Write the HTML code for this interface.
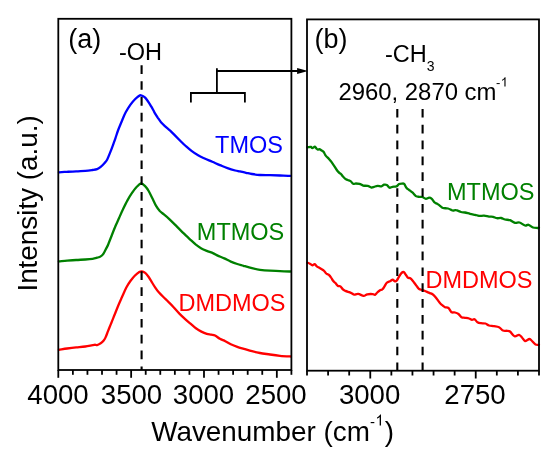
<!DOCTYPE html>
<html><head><meta charset="utf-8"><style>
html,body{margin:0;padding:0;background:#fff;}
body{width:550px;height:457px;overflow:hidden;}
svg{display:block;will-change:transform;}
text{font-family:"Liberation Sans",sans-serif;}
</style></head><body>
<svg width="550" height="457" viewBox="0 0 550 457">
<rect width="550" height="457" fill="#fff"/>
<g  fill="none" stroke-linejoin="round" stroke-linecap="round" stroke-width="2.3">
<path stroke="#0000ff" d="M58.9,172.3 C60.3,172.2 64.2,172.0 67.1,171.8 C70.0,171.7 73.2,171.6 76.2,171.4 C79.2,171.2 82.6,171.1 85.3,170.9 C88.0,170.7 90.5,170.3 92.5,170.0 C94.5,169.7 95.7,169.6 97.1,169.1 C98.5,168.6 99.5,167.8 100.7,166.8 C101.9,165.8 103.3,164.4 104.4,163.2 C105.5,162.0 106.2,161.4 107.1,159.7 C108.0,158.0 109.0,155.5 109.9,153.2 C110.8,150.9 111.8,148.3 112.7,145.8 C113.6,143.3 114.5,140.9 115.4,138.3 C116.3,135.7 117.1,132.9 118.2,130.0 C119.3,127.1 120.8,123.7 122.0,120.7 C123.2,117.8 124.3,114.9 125.7,112.3 C127.1,109.7 128.8,107.1 130.3,104.9 C131.9,102.7 133.6,100.7 135.0,99.3 C136.4,97.9 137.5,97.0 138.5,96.3 C139.5,95.6 140.0,95.1 141.0,95.3 C142.0,95.5 143.4,96.2 144.6,97.2 C145.8,98.2 146.8,99.7 147.9,101.2 C149.0,102.7 150.1,104.6 151.2,106.4 C152.3,108.2 153.3,110.4 154.4,112.3 C155.5,114.2 156.6,115.9 157.7,117.6 C158.8,119.2 159.8,120.8 161.0,122.2 C162.2,123.6 163.4,124.7 164.9,126.1 C166.4,127.5 168.4,129.1 170.2,130.7 C171.9,132.3 173.7,134.2 175.4,135.9 C177.2,137.7 179.0,139.5 180.7,141.2 C182.4,142.9 183.9,144.4 185.7,146.0 C187.5,147.6 189.4,149.3 191.5,150.9 C193.6,152.5 195.9,154.0 198.1,155.3 C200.3,156.6 202.2,157.4 204.6,158.5 C207.0,159.6 209.8,160.7 212.3,161.8 C214.9,162.9 217.4,164.1 219.9,165.1 C222.4,166.1 224.9,167.2 227.5,168.1 C230.1,169.0 233.1,169.9 235.2,170.5 C237.3,171.1 238.2,171.0 240.0,171.4 C241.8,171.8 244.0,172.4 246.0,172.8 C248.0,173.2 249.7,173.6 252.0,174.0 C254.3,174.4 257.0,174.8 260.0,175.0 C263.0,175.2 266.7,175.1 270.0,175.2 C273.3,175.3 276.6,175.4 280.0,175.5 C283.4,175.6 288.8,175.8 290.5,175.8"/>
<path stroke="#008000" d="M58.9,261.4 C60.3,261.3 64.2,260.8 67.1,260.6 C70.0,260.4 73.2,260.2 76.2,260.0 C79.2,259.8 82.6,259.7 85.3,259.5 C88.0,259.3 90.5,259.1 92.5,258.8 C94.5,258.5 95.7,258.1 97.1,257.7 C98.5,257.3 99.6,257.1 100.7,256.4 C101.8,255.7 102.7,254.8 103.5,253.6 C104.3,252.4 104.9,251.1 105.7,249.5 C106.5,247.9 107.3,246.6 108.3,244.2 C109.3,241.8 110.7,238.1 111.9,235.0 C113.1,231.9 114.4,228.7 115.6,225.8 C116.8,222.9 118.1,220.3 119.3,217.5 C120.5,214.7 121.6,212.1 123.0,209.2 C124.4,206.3 126.1,202.8 127.6,200.1 C129.1,197.3 130.7,194.9 132.2,192.7 C133.7,190.5 135.3,188.3 136.8,186.8 C138.3,185.3 139.6,183.6 141.0,183.5 C142.4,183.4 143.8,184.8 145.1,186.1 C146.4,187.4 147.6,189.1 148.8,191.2 C150.0,193.3 151.3,196.1 152.5,198.5 C153.7,200.9 154.9,203.8 156.1,205.9 C157.3,208.0 158.5,209.5 159.8,211.0 C161.2,212.5 162.6,213.3 164.2,214.7 C165.8,216.0 167.5,217.4 169.3,219.1 C171.1,220.8 173.2,222.9 175.2,224.9 C177.2,226.9 179.1,228.9 181.1,230.8 C183.1,232.7 185.3,234.9 186.9,236.4 C188.5,237.9 189.0,238.4 190.5,239.8 C192.0,241.2 194.1,243.2 195.9,244.7 C197.7,246.1 199.6,247.5 201.4,248.5 C203.2,249.5 204.8,250.1 206.8,250.9 C208.8,251.7 211.6,252.6 213.4,253.4 C215.2,254.2 215.9,254.8 217.7,255.6 C219.5,256.4 222.1,257.4 224.3,258.4 C226.5,259.4 228.6,260.7 230.8,261.6 C233.0,262.5 235.2,263.3 237.3,264.0 C239.4,264.7 241.1,265.1 243.5,265.8 C245.9,266.5 249.2,267.5 252.0,268.2 C254.8,268.9 257.0,269.4 260.0,269.8 C263.0,270.2 266.7,270.5 270.0,270.7 C273.3,270.9 276.6,271.1 280.0,271.2 C283.4,271.3 288.8,271.4 290.5,271.5"/>
<path stroke="#ff0000" d="M58.9,349.8 C60.3,349.6 64.2,348.9 67.1,348.5 C70.0,348.1 73.2,347.7 76.2,347.4 C79.2,347.1 82.3,346.9 85.3,346.5 C88.3,346.1 92.4,345.0 94.4,344.8 C96.4,344.6 96.0,345.4 97.1,345.1 C98.1,344.9 99.6,344.0 100.7,343.3 C101.8,342.6 102.7,341.7 103.5,340.7 C104.3,339.7 105.0,338.7 105.7,337.1 C106.4,335.6 107.0,333.8 107.9,331.4 C108.9,329.0 110.2,325.6 111.4,322.7 C112.6,319.8 113.7,316.9 114.9,314.0 C116.1,311.1 117.2,308.0 118.4,305.2 C119.6,302.4 120.6,300.2 121.9,297.3 C123.2,294.4 124.8,290.5 126.2,287.7 C127.7,284.9 129.1,282.7 130.6,280.7 C132.1,278.7 133.6,276.9 135.0,275.5 C136.4,274.1 138.2,272.7 139.3,272.0 C140.4,271.3 140.8,271.2 141.8,271.3 C142.8,271.4 144.1,272.0 145.2,272.9 C146.3,273.8 147.4,275.3 148.5,276.8 C149.6,278.3 150.7,280.4 151.8,282.1 C152.9,283.9 153.9,285.6 155.1,287.3 C156.3,289.1 157.6,291.0 159.0,292.6 C160.4,294.2 161.9,295.6 163.6,297.2 C165.2,298.8 167.2,300.6 168.9,302.4 C170.7,304.1 172.3,305.8 174.1,307.7 C175.8,309.6 177.7,311.8 179.4,313.6 C181.2,315.4 182.8,316.9 184.6,318.6 C186.4,320.3 188.6,322.1 190.5,323.7 C192.4,325.3 194.1,327.0 195.9,328.3 C197.7,329.6 199.6,330.7 201.4,331.6 C203.2,332.5 205.2,333.3 206.8,333.8 C208.4,334.3 209.8,334.3 211.2,334.6 C212.6,334.9 213.6,334.8 215.0,335.5 C216.4,336.2 218.2,337.9 219.9,338.8 C221.6,339.8 223.5,340.3 225.3,341.2 C227.1,342.1 228.8,343.3 230.8,344.2 C232.8,345.1 235.1,346.0 237.3,346.8 C239.5,347.6 241.5,348.1 243.9,348.8 C246.3,349.5 249.3,350.5 252.0,351.2 C254.7,351.9 257.0,352.4 260.0,353.0 C263.0,353.6 266.7,354.0 270.0,354.5 C273.3,355.0 276.6,355.5 280.0,355.8 C283.4,356.1 288.8,356.4 290.5,356.5"/>
<path stroke="#008000" d="M307.5,147.4 C307.8,147.3 308.8,147.2 309.4,147.1 C310.0,147.0 310.4,146.7 310.9,146.9 C311.4,147.1 311.7,148.1 312.4,148.1 C313.1,148.1 314.2,146.6 314.9,146.7 C315.5,146.8 315.8,147.9 316.3,148.4 C316.8,148.9 317.3,149.6 317.8,149.7 C318.3,149.8 318.7,149.0 319.3,149.1 C319.9,149.2 320.6,149.8 321.3,150.3 C322.0,150.8 323.1,151.2 323.7,152.0 C324.3,152.8 324.7,154.0 325.2,154.8 C325.7,155.6 326.0,156.0 326.7,156.7 C327.4,157.4 328.4,158.3 329.2,159.2 C330.0,160.1 330.9,161.2 331.6,162.2 C332.3,163.2 332.9,164.1 333.6,165.1 C334.3,166.1 335.0,167.1 335.6,168.1 C336.2,169.1 336.9,170.2 337.5,171.0 C338.1,171.8 338.9,172.5 339.5,173.0 C340.1,173.5 340.4,173.4 341.0,174.0 C341.6,174.6 342.2,175.7 342.9,176.5 C343.6,177.3 344.2,178.0 345.0,178.6 C345.8,179.2 346.8,179.6 347.7,180.0 C348.6,180.4 349.6,180.5 350.5,181.1 C351.4,181.7 352.3,183.4 353.2,183.8 C354.1,184.2 354.8,183.5 355.9,183.5 C356.9,183.5 358.3,183.5 359.5,183.8 C360.7,184.2 361.8,185.2 363.2,185.6 C364.6,185.9 366.3,185.6 367.7,185.9 C369.1,186.2 370.3,187.3 371.4,187.5 C372.5,187.7 373.1,187.1 374.1,186.8 C375.2,186.5 376.5,186.0 377.7,185.9 C378.9,185.8 380.3,186.6 381.4,186.4 C382.5,186.2 383.2,184.9 384.1,184.7 C385.0,184.5 385.9,184.5 386.8,185.0 C387.7,185.5 388.6,187.4 389.5,187.7 C390.4,188.0 391.4,187.0 392.5,186.8 C393.6,186.6 395.3,186.9 396.4,186.4 C397.5,185.9 398.2,184.6 399.1,184.1 C400.0,183.6 401.0,183.6 401.8,183.6 C402.6,183.6 403.3,183.2 404.1,183.9 C404.9,184.6 405.6,186.7 406.4,187.7 C407.2,188.7 408.1,189.2 409.1,190.0 C410.2,190.8 411.6,191.7 412.7,192.7 C413.8,193.7 414.8,195.4 415.9,196.1 C417.0,196.8 418.0,196.7 419.1,196.8 C420.2,197.0 421.2,196.7 422.3,197.0 C423.4,197.3 424.8,198.7 425.9,198.8 C427.0,198.9 428.1,197.7 429.1,197.7 C430.1,197.7 430.9,198.0 431.8,198.8 C432.7,199.6 433.6,201.5 434.5,202.3 C435.4,203.2 436.4,203.3 437.3,203.9 C438.2,204.5 439.1,205.1 440.0,205.8 C440.9,206.5 441.7,207.6 443.0,208.0 C444.3,208.4 446.4,208.1 448.0,208.5 C449.6,208.9 451.2,210.2 452.5,210.5 C453.8,210.8 454.6,209.9 456.0,210.2 C457.4,210.4 459.5,211.6 461.0,212.0 C462.5,212.4 463.5,212.2 465.0,212.5 C466.5,212.8 468.3,213.4 470.0,213.8 C471.7,214.2 473.5,214.5 475.0,214.8 C476.5,215.1 477.5,215.7 479.0,215.8 C480.5,216.0 482.3,215.6 484.0,215.7 C485.7,215.8 487.5,216.4 489.0,216.6 C490.5,216.8 491.7,216.5 493.0,216.8 C494.3,217.1 495.7,218.0 497.0,218.2 C498.3,218.4 499.7,217.8 501.0,218.0 C502.3,218.2 503.5,219.1 505.0,219.5 C506.5,219.9 508.3,219.6 510.0,220.2 C511.7,220.8 513.4,222.4 515.0,222.8 C516.6,223.2 517.8,222.1 519.5,222.5 C521.2,222.9 523.5,225.1 525.0,225.5 C526.5,225.9 527.2,224.5 528.5,224.8 C529.8,225.1 531.5,227.0 533.0,227.5 C534.5,228.0 536.5,227.9 537.5,228.0 C538.5,228.1 538.8,227.8 539.0,227.8"/>
<path stroke="#ff0000" d="M307.5,262.7 C307.9,262.9 309.1,263.3 309.9,263.7 C310.7,264.1 311.6,265.2 312.4,265.3 C313.2,265.4 314.0,263.9 314.7,264.1 C315.4,264.3 316.0,265.7 316.8,266.3 C317.6,266.9 318.5,267.3 319.3,267.8 C320.1,268.3 320.9,268.8 321.7,269.3 C322.5,269.8 323.4,270.3 324.2,271.0 C324.9,271.7 325.5,272.9 326.2,273.5 C326.9,274.1 327.8,274.0 328.6,274.7 C329.4,275.4 330.4,276.6 331.1,277.6 C331.9,278.6 332.4,279.9 333.1,280.8 C333.8,281.7 334.7,282.2 335.5,283.1 C336.3,284.0 337.2,285.5 338.0,286.0 C338.8,286.5 339.6,285.7 340.4,286.3 C341.2,286.9 342.1,288.6 342.9,289.4 C343.7,290.2 344.3,290.4 345.4,290.9 C346.5,291.4 348.1,291.8 349.3,292.2 C350.5,292.6 351.5,293.2 352.3,293.6 C353.1,294.0 353.2,294.6 354.2,294.7 C355.2,294.8 356.6,293.7 358.2,293.9 C359.8,294.1 362.1,295.8 363.6,295.9 C365.1,296.0 365.8,294.6 367.3,294.3 C368.8,294.0 371.4,294.0 372.7,294.1 C374.0,294.2 374.2,295.1 375.0,294.8 C375.8,294.5 376.5,293.2 377.3,292.5 C378.1,291.8 379.2,290.8 380.0,290.3 C380.8,289.8 381.6,290.0 382.3,289.4 C383.1,288.8 383.8,287.5 384.5,286.4 C385.2,285.3 385.9,283.6 386.8,282.7 C387.7,281.8 389.0,281.7 390.0,281.2 C391.0,280.7 391.9,279.7 392.7,279.7 C393.5,279.7 394.3,281.3 395.0,281.4 C395.7,281.5 396.4,281.1 397.0,280.3 C397.6,279.5 398.2,278.0 398.9,276.8 C399.6,275.6 400.6,273.9 401.4,273.1 C402.2,272.3 403.2,271.8 403.9,272.1 C404.6,272.4 405.1,273.9 405.8,274.8 C406.5,275.7 407.1,277.0 407.8,277.6 C408.6,278.2 409.5,277.8 410.3,278.3 C411.1,278.8 411.8,279.6 412.7,280.7 C413.6,281.8 414.7,283.4 415.7,284.7 C416.7,286.0 417.6,287.8 418.6,288.6 C419.6,289.5 420.6,289.4 421.6,289.8 C422.6,290.2 423.5,290.4 424.5,290.8 C425.5,291.2 426.6,291.7 427.5,292.1 C428.4,292.5 429.0,292.7 429.9,293.1 C430.8,293.5 431.9,293.8 432.9,294.5 C433.9,295.2 434.9,296.4 435.8,297.5 C436.7,298.6 437.5,299.8 438.3,300.9 C439.1,302.0 440.0,303.2 440.8,304.0 C441.6,304.8 442.3,305.2 443.0,305.7 C443.7,306.2 444.1,306.8 445.0,307.2 C445.9,307.6 447.4,307.2 448.5,308.0 C449.6,308.8 450.4,311.4 451.5,312.2 C452.6,312.9 453.8,312.2 455.0,312.5 C456.2,312.8 457.4,313.2 458.5,314.0 C459.6,314.8 460.4,316.6 461.5,317.2 C462.6,317.8 463.8,317.6 465.0,317.8 C466.2,318.0 467.8,318.2 469.0,318.5 C470.2,318.8 471.1,319.7 472.0,319.8 C472.9,319.9 473.6,318.8 474.5,319.2 C475.4,319.6 476.4,321.5 477.5,322.2 C478.6,322.9 479.7,323.0 481.0,323.2 C482.3,323.4 484.2,323.1 485.5,323.5 C486.8,323.9 487.6,325.1 489.0,325.5 C490.4,325.9 492.3,325.9 494.0,326.2 C495.7,326.5 497.5,326.5 499.0,327.2 C500.5,327.9 501.7,329.9 503.0,330.5 C504.3,331.1 505.8,330.6 507.0,330.8 C508.2,331.0 508.8,330.6 510.0,331.5 C511.2,332.4 513.0,335.6 514.5,336.2 C516.0,336.8 517.8,334.6 519.0,334.8 C520.2,335.0 521.0,336.5 522.0,337.5 C523.0,338.5 523.8,340.8 525.0,341.0 C526.2,341.2 528.3,339.0 529.5,339.0 C530.7,339.0 531.0,340.1 532.0,341.0 C533.0,341.9 534.3,343.9 535.5,344.5 C536.7,345.1 538.4,344.8 539.0,344.8"/>
</g>
<g  stroke="#000" stroke-width="2.1" stroke-dasharray="8.7 7.15" fill="none">
<line x1="141.6" y1="65.3" x2="141.6" y2="370.0"/>
<line x1="397.3" y1="108.9" x2="397.3" y2="370.7"/>
<line x1="422.6" y1="108.9" x2="422.6" y2="370.7"/>
</g>
<g stroke="#000" stroke-width="1.8" fill="none" stroke-linecap="butt">
<rect x="58.3" y="18.8" width="233.10" height="351.20"/>
<rect x="307.0" y="19.4" width="232.00" height="351.30"/>
<line x1="58.30" y1="370.0" x2="58.30" y2="377.8"/><line x1="72.87" y1="370.0" x2="72.87" y2="374.8"/><line x1="87.44" y1="370.0" x2="87.44" y2="374.8"/><line x1="102.01" y1="370.0" x2="102.01" y2="374.8"/><line x1="116.57" y1="370.0" x2="116.57" y2="374.8"/><line x1="131.14" y1="370.0" x2="131.14" y2="377.8"/><line x1="145.71" y1="370.0" x2="145.71" y2="374.8"/><line x1="160.28" y1="370.0" x2="160.28" y2="374.8"/><line x1="174.85" y1="370.0" x2="174.85" y2="374.8"/><line x1="189.42" y1="370.0" x2="189.42" y2="374.8"/><line x1="203.99" y1="370.0" x2="203.99" y2="377.8"/><line x1="218.56" y1="370.0" x2="218.56" y2="374.8"/><line x1="233.12" y1="370.0" x2="233.12" y2="374.8"/><line x1="247.69" y1="370.0" x2="247.69" y2="374.8"/><line x1="262.26" y1="370.0" x2="262.26" y2="374.8"/><line x1="276.83" y1="370.0" x2="276.83" y2="377.8"/><line x1="291.40" y1="370.0" x2="291.40" y2="374.8"/><line x1="307.00" y1="370.7" x2="307.00" y2="375.5"/><line x1="328.09" y1="370.7" x2="328.09" y2="375.5"/><line x1="349.18" y1="370.7" x2="349.18" y2="375.5"/><line x1="370.27" y1="370.7" x2="370.27" y2="378.5"/><line x1="391.36" y1="370.7" x2="391.36" y2="375.5"/><line x1="412.45" y1="370.7" x2="412.45" y2="375.5"/><line x1="433.55" y1="370.7" x2="433.55" y2="375.5"/><line x1="454.64" y1="370.7" x2="454.64" y2="375.5"/><line x1="475.73" y1="370.7" x2="475.73" y2="378.5"/><line x1="496.82" y1="370.7" x2="496.82" y2="375.5"/><line x1="517.91" y1="370.7" x2="517.91" y2="375.5"/><line x1="539.00" y1="370.7" x2="539.00" y2="375.5"/>
<path d="M190.9,102.6 V93 H244.9 V102.6 M216.9,93 V68.3 M216,71 H298"/>
</g>
<path d="M297.1,67.9 L308,71 L297.1,74 Z" fill="#000"/>
<g font-size="27" fill="#000">
<text x="68.3" y="48.2">(a)</text>
<text x="314.4" y="47.7">(b)</text>
</g>
<g font-size="23.5" fill="#000">
<text x="119" y="60.1">-OH</text>
<text x="385" y="62">-CH<tspan font-size="14" dy="8.8">3</tspan></text>
</g>
<text x="338.4" y="99.7" font-size="23.9">2960, 2870 cm</text>
<text x="496" y="87.2" font-size="13">-</text><path transform="translate(500.7,86.5) scale(0.006348,-0.006348)" d="M763,0 L583,0 L583,1147 C518,1085 433,1023 328,961 C275,930 240,915 222,908 L222,1082 C373,1153 486,1240 560,1340 C600,1395 630,1440 646,1472 L763,1472 Z" fill="#000"/>
<g font-size="23.5" text-anchor="end">
<text x="283" y="152.5" fill="#0000ff">TMOS</text>
<text x="284.3" y="239.6" fill="#008000">MTMOS</text>
<text x="285.5" y="311.1" fill="#ff0000">DMDMOS</text>
<text x="534.5" y="199.6" fill="#008000">MTMOS</text>
<text x="532.5" y="288" fill="#ff0000">DMDMOS</text>
</g>
<g font-size="27.6" fill="#000" text-anchor="middle">
<text x="58" y="403.6">4000</text>
<text x="131.5" y="403.6">3500</text>
<text x="203.5" y="403.6">3000</text>
<text x="276" y="403.6">2500</text>
<text x="369.6" y="403.6">3000</text>
<text x="475" y="403.6">2750</text>
</g>
<g font-size="27.85" fill="#000">
<text x="151.2" y="440.9">Wavenumber (cm</text>
<text x="369.9" y="426.8" font-size="15">-</text><path transform="translate(375.4,425.4) scale(0.007324,-0.007324)" d="M763,0 L583,0 L583,1147 C518,1085 433,1023 328,961 C275,930 240,915 222,908 L222,1082 C373,1153 486,1240 560,1340 C600,1395 630,1440 646,1472 L763,1472 Z" fill="#000"/>
<text x="384.8" y="440.9">)</text>
<text transform="translate(37.1,291.6) rotate(-90)">Intensity (a.u.)</text>
</g>
</svg>
</body></html>
